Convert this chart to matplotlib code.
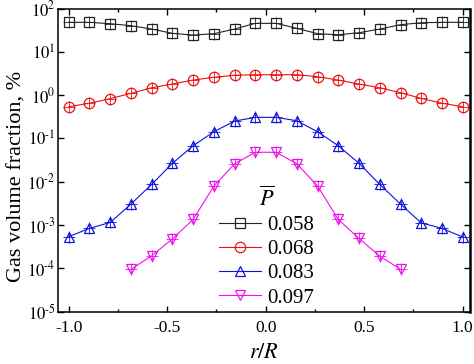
import numpy as np
import matplotlib
matplotlib.use("Agg")
import matplotlib.pyplot as plt
from matplotlib.ticker import FixedLocator, MultipleLocator, FixedFormatter

plt.rcParams['font.family'] = ['Liberation Serif', 'DejaVu Serif']
plt.rcParams['mathtext.fontset'] = 'stix'

r_full = np.linspace(-1.0, 1.0, 20)
r_pink = r_full[3:17]

p058 = [48.0, 48.0, 44.6, 40.1, 33.6, 26.7, 24.4, 26.2, 33.6, 45.5,
        45.5, 34.9, 26.2, 24.8, 27.6, 33.6, 42.3, 47.0, 48.0, 48.0]
p068 = [0.54, 0.65, 0.83, 1.10, 1.48, 1.80, 2.23, 2.58, 2.88, 2.96,
        2.96, 2.96, 2.66, 2.23, 1.80, 1.48, 1.14, 0.84, 0.65, 0.54]
p083 = [5.4e-4, 8.4e-4, 1.15e-3, 3.05e-3, 8.7e-3, 0.0266, 0.0678, 0.143, 0.252, 0.307,
        0.307, 0.256, 0.143, 0.0678, 0.0266, 8.7e-3, 3.05e-3, 1.12e-3, 8.4e-4, 5.3e-4]
p097 = [9.5e-5, 1.95e-4, 4.8e-4, 1.35e-3, 7.96e-3, 0.026, 0.048,
        0.048, 0.026, 7.96e-3, 1.35e-3, 4.9e-4, 1.92e-4, 9.5e-5]

labels = ['0.058', '0.068', '0.083', '0.097']
colors = ['#222222', '#ee1111', '#1111dd', '#ee11ee']
markers = ['s', 'o', '^', 'v']
xs = [r_full, r_full, r_full, r_pink]
ys = [p058, p068, p083, p097]

yticks = [1e-5, 1e-4, 1e-3, 1e-2, 1e-1, 1e0, 1e1, 1e2]
ytick_labels = ['$10^{\\text{-}5}$', '$10^{\\text{-}4}$', '$10^{\\text{-}3}$', '$10^{\\text{-}2}$',
                '$10^{\\text{-}1}$', '$10^{0}$', '$10^{1}$', '$10^{2}$']
xticks = [-1.0, -0.5, 0.0, 0.5, 1.0]
xtick_labels = ['-1.0', '-0.5', '0.0', '0.5', '1.0']

fig = plt.figure(figsize=(4.74, 3.64), dpi=100)
ax = fig.add_axes([0.1234, 0.1437, 0.8686, 0.8329])

for x, y, c, m, lab in zip(xs, ys, colors, markers, labels):
    ax.plot(x, y, color=c, lw=0.8, marker=m, markersize=7.5, markerfacecolor='none',
            markeredgecolor=c, markeredgewidth=0.9, label=lab)
    ax.plot(x, y, linestyle='none', marker='+', markersize=8, markeredgecolor=c,
            markeredgewidth=0.6)

ax.set_yscale('log')
ax.set_ylim(1e-5, 1e2)
ax.set_xlim(-1.052, 1.038)

ax.yaxis.set_major_locator(FixedLocator(yticks))
ax.yaxis.set_major_formatter(FixedFormatter(ytick_labels))
ax.yaxis.set_minor_locator(FixedLocator([]))
ax.xaxis.set_major_locator(FixedLocator(xticks))
ax.xaxis.set_major_formatter(FixedFormatter(xtick_labels))
ax.xaxis.set_minor_locator(MultipleLocator(0.25))

ax.tick_params(which='both', direction='in', top=True, right=True, width=1.0)
ax.tick_params(axis='x', labelsize=12.5, pad=6)
ax.tick_params(axis='y', labelsize=12, pad=2)
ax.tick_params(which='major', length=4.5)
ax.tick_params(which='minor', length=2.5)
for s in ax.spines.values():
    s.set_linewidth(1.1)
ax.spines['right'].set_linewidth(1.8)

ax.set_xlabel('$r/R$', fontsize=16, labelpad=6)
ax.set_ylabel('Gas volume fraction, %', fontsize=16)
ax.yaxis.set_label_coords(-0.078, 0.445)

leg = ax.legend(loc='lower left', bbox_to_anchor=(0.38, 0.0), frameon=False,
                title='$\\overline{P}$', title_fontsize=16, fontsize=15,
                handlelength=2.0, handletextpad=0.3, labelspacing=0.22,
                borderpad=0.2, borderaxespad=0.0)

fig.savefig('out.png', dpi=100)
